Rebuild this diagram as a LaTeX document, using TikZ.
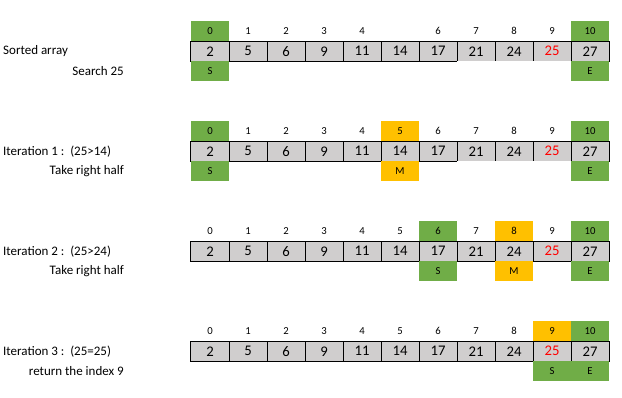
\documentclass[tikz,border=0pt]{standalone}
\usepackage{fontspec}
\setmainfont{Carlito}
\definecolor{xlgreen}{RGB}{112,173,71}
\definecolor{xlorange}{RGB}{255,192,0}
\definecolor{xlgray}{RGB}{208,206,206}

\begin{document}
\begin{tikzpicture}[x=1pt, y=-1pt,
    val/.style={minimum width=38pt, minimum height=19.5pt, inner sep=0pt, fill=xlgray, font=\fontsize{14.7}{16}\selectfont},
    idx/.style={minimum width=38pt, minimum height=20pt, inner sep=0pt, font=\fontsize{10.7}{12}\selectfont},
    flag/.style={minimum width=38pt, minimum height=19.5pt, inner sep=0pt, font=\fontsize{10.7}{12}\selectfont},
    lab/.style={inner sep=0pt, font=\fontsize{13}{15}\selectfont}]
\useasboundingbox (0,0) rectangle (622,398);

% highlighted index cells
\foreach \b/\i/\c in {0/0/xlgreen,0/10/xlgreen,1/0/xlgreen,1/5/xlorange,1/10/xlgreen,
    2/6/xlgreen,2/8/xlorange,2/10/xlgreen,3/9/xlorange,3/10/xlgreen}
    \fill[\c](191+38*\i,21+100*\b) rectangle +(38,20.5);

\foreach \b in {0,...,3}
{
    \foreach \v/\c [count=\i from 0] in {2/black,5/black,6/black,9/black,11/black,14/black,
        17/black,21/black,24/black,25/red,27/black}
    {
        \node[val, text=\c] (v\b-\i) at (210+38*\i,51.25+100*\b) {\v};
        \node[idx] (i\b-\i) at (210+38*\i,31.25+100*\b) {\ifnum\b=0 \ifnum\i=5 \else\i\fi\else\i\fi};
    }
    \draw[line width=.8pt](v\b-6.south east)--(v\b-0.south west)--(v\b-0.north west)
        --(v\b-10.north east)--(v\b-10.south east)--(v\b-10.south west);
    \foreach \i in {0,...,9}
        \draw[line width=.8pt](v\b-\i.north east)--(v\b-\i.south east);
}
\foreach \b in {2,3}
    \draw[line width=.8pt](v\b-6.south east)--(v\b-10.south west);

% S, M and E markers
\foreach \b/\i/\t/\c in {0/0/S/xlgreen,0/10/E/xlgreen,1/0/S/xlgreen,1/5/M/xlorange,1/10/E/xlgreen,
    2/6/S/xlgreen,2/8/M/xlorange,2/10/E/xlgreen,3/9/S/xlgreen,3/10/E/xlgreen}
    \node[flag, fill=\c] (m\b-\i) at (210+38*\i,71+100*\b) {\t};

\node[lab, anchor=west] (t0) at (3,51.25) {Sorted array};
\node[lab, anchor=east] (s0) at (124,71) {Search 25};
\node[lab, anchor=west] (t1) at (3,151.25) {Iteration 1 :\ \ (25>14)};
\node[lab, anchor=east] (s1) at (124,171) {Take right half};
\node[lab, anchor=west] (t2) at (3,251.25) {Iteration 2 :\ \ (25>24)};
\node[lab, anchor=east] (s2) at (124,271) {Take right half};
\node[lab, anchor=west] (t3) at (3,351.25) {Iteration 3 :\ \ (25=25)};
\node[lab, anchor=east] (s3) at (124,371) {return the index 9};

\end{tikzpicture}
\end{document}
